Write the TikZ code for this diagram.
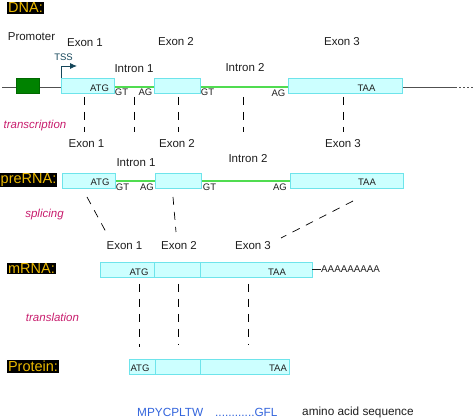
\documentclass[tikz,border=0pt]{standalone}
\usepackage{fontspec}
\setmainfont{Liberation Sans}
\usetikzlibrary{arrows.meta}
\definecolor{exF}{RGB}{204,255,255}
\definecolor{exB}{RGB}{110,228,235}
\definecolor{intr}{RGB}{80,220,80}
\definecolor{flank}{RGB}{80,80,80}
\definecolor{prom}{RGB}{0,130,0}
\definecolor{tss}{RGB}{20,70,90}
\definecolor{gold}{RGB}{235,185,0}
\definecolor{procol}{RGB}{200,30,110}
\definecolor{seqblue}{RGB}{50,100,220}
\definecolor{txt}{RGB}{30,30,30}
\tikzset{
  exon/.style={draw=exB, fill=exF, line width=0.8pt, rectangle, inner sep=0pt, minimum height=15pt, anchor=north west},
  lab/.style={font=\fontsize{11.5}{13}\selectfont, text=txt, inner sep=0pt},
  site/.style={font=\fontsize{9.5}{10}\selectfont, text=txt, inner sep=0pt},
  stage/.style={font=\fontsize{14.5}{15}\selectfont, fill=black, text=gold, inner sep=0.8pt},
  proc/.style={font=\fontsize{11.5}{13}\selectfont\itshape, text=procol, inner sep=0pt},
  intron/.style={draw=intr, line width=1.1pt},
  flankline/.style={draw=flank, line width=0.9pt},
  guide/.style={draw=black, line width=0.7pt, dash pattern=on 8pt off 7pt},
  seqtxt/.style={font=\fontsize{11.8}{13}\selectfont, inner sep=0pt, anchor=west}
}
\begin{document}
\begin{tikzpicture}[x=1pt,y=-1pt]
\useasboundingbox (0,0) rectangle (474,419);

% ---------- DNA ----------
\node[stage] (sDNA) at (25.5,8) {DNA:};
\node[lab] (prom) at (31.5,37) {Promoter};
\coordinate (dL) at (2,87);
\coordinate (dR) at (455,87);
\coordinate (dE) at (474,87);
\draw[flankline] (dL) -- (61,87);
\draw[intron] (114,87) -- (288,87);
\draw[flankline] (402,87) -- (dR);
\draw[flank, line width=0.9pt, dash pattern=on 2pt off 2pt] (dR) -- (dE);
\node[draw=prom!80!black, fill=prom, minimum width=23pt, minimum height=15pt, inner sep=0pt, anchor=north west] (pbox) at (16,78) {};
\node[exon, minimum width=53pt] (dx1) at (61,78) {};
\node[exon, minimum width=46pt] (dx2) at (154,78) {};
\node[exon, minimum width=114pt] (dx3) at (288,78) {};
% TSS
\coordinate (t0) at (61,78);
\coordinate (t1) at (61,66);
\coordinate (t2) at (77,66);
\draw[tss, line width=0.9pt, -{Latex[length=7pt,width=6pt]}] (t0) -- (t1) -- (t2);
\node[font=\fontsize{9.5}{10}\selectfont, text=tss, inner sep=0pt] (tssl) at (63.5,57) {TSS};
\node[lab] (dE1l) at (85,43) {Exon 1};
\node[lab] (dE2l) at (176,42) {Exon 2};
\node[lab] (dE3l) at (342,42) {Exon 3};
\node[lab] (dI1l) at (134,69) {Intron 1};
\node[lab] (dI2l) at (245,68) {Intron 2};
\node[site] (dATG) at (99.5,88.5) {ATG};
\node[site] (dGT1) at (121.5,92.5) {GT};
\node[site] (dAG1) at (145.5,92.5) {AG};
\node[site] (dGT2) at (207.5,92.5) {GT};
\node[site] (dAG2) at (278.5,93) {AG};
\node[site] (dTAA) at (366.5,88.5) {TAA};

% transcription guides
\coordinate (g1a) at (84,97);  \coordinate (g1b) at (84,132);
\coordinate (g2a) at (134,97); \coordinate (g2b) at (134,132);
\coordinate (g3a) at (178,97); \coordinate (g3b) at (178,132);
\coordinate (g4a) at (243,97); \coordinate (g4b) at (243,132);
\coordinate (g5a) at (343,97); \coordinate (g5b) at (343,132);
\foreach \a/\b in {g1a/g1b,g2a/g2b,g3a/g3b,g4a/g4b,g5a/g5b} \draw[guide] (\a) -- (\b);
\node[proc] (ptr) at (35,126) {transcription};

% ---------- preRNA ----------
\node[stage] (sPre) at (28.5,180) {preRNA:};
\draw[intron] (115,181) -- (290,181);
\node[exon, minimum width=53pt] (px1) at (62,173) {};
\node[exon, minimum width=46pt] (px2) at (155,173) {};
\node[exon, minimum width=113pt] (px3) at (290,173) {};
\node[lab] (pE1l) at (86.5,144) {Exon 1};
\node[lab] (pE2l) at (177,144) {Exon 2};
\node[lab] (pE3l) at (343,144) {Exon 3};
\node[lab] (pI1l) at (136,163) {Intron 1};
\node[lab] (pI2l) at (248,159) {Intron 2};
\node[site] (pATG) at (100,182.5) {ATG};
\node[site] (pGT1) at (122.5,187) {GT};
\node[site] (pAG1) at (147,187) {AG};
\node[site] (pGT2) at (209.5,187) {GT};
\node[site] (pAG2) at (280,187) {AG};
\node[site] (pTAA) at (367,182.5) {TAA};

% splicing guides
\coordinate (s1a) at (87,197);  \coordinate (s1b) at (106,232);
\coordinate (s2a) at (173,197); \coordinate (s2b) at (176,232);
\coordinate (s3a) at (353,201); \coordinate (s3b) at (281,238);
\foreach \a/\b in {s1a/s1b,s2a/s2b,s3a/s3b} \draw[guide] (\a) -- (\b);
\node[proc] (psp) at (44.5,215) {splicing};

% ---------- mRNA ----------
\node[stage] (sM) at (31.5,268.5) {mRNA:};
\node[lab] (mE1l) at (124.5,246) {Exon 1};
\node[lab] (mE2l) at (179,246) {Exon 2};
\node[lab] (mE3l) at (253,246) {Exon 3};
\node[exon, minimum width=54pt] (mx1) at (100,262) {};
\node[exon, minimum width=46pt] (mx2) at (154,262) {};
\node[exon, minimum width=112pt] (mx3) at (200,262) {};
\node[site] (mATG) at (139,272) {ATG};
\node[site] (mTAA) at (277,272) {TAA};
\coordinate (pa0) at (312,269);
\node[font=\fontsize{9.8}{10}\selectfont, text=txt, inner sep=0pt, anchor=west] (polyA) at (321,269) {AAAAAAAAA};
\draw[txt, line width=0.8pt] (pa0) -- (polyA.west);

% translation guides
\coordinate (r1a) at (139,284); \coordinate (r1b) at (139,347);
\coordinate (r2a) at (178,284); \coordinate (r2b) at (178,345);
\coordinate (r3a) at (248,284); \coordinate (r3b) at (248,345);
\foreach \a/\b in {r1a/r1b,r2a/r2b,r3a/r3b} \draw[guide] (\a) -- (\b);
\node[proc] (ptl) at (52.5,317) {translation};

% ---------- Protein ----------
\node[stage] (sP) at (33,366.5) {Protein:};
\node[exon, minimum width=26pt] (rx1) at (129,359) {};
\node[exon, minimum width=45pt] (rx2) at (155,359) {};
\node[exon, minimum width=89pt] (rx3) at (200,359) {};
\node[site] (rATG) at (140,368) {ATG};
\node[site] (rTAA) at (278,368) {TAA};

\node[seqtxt, text=seqblue] (seq1) at (137,412) {MPYCPLTW};
\node[seqtxt, text=seqblue] (seq2) at (215,412) {............GFL};
\node[seqtxt, text=txt] (aas) at (302,412) {amino acid sequence};
\end{tikzpicture}
\end{document}
